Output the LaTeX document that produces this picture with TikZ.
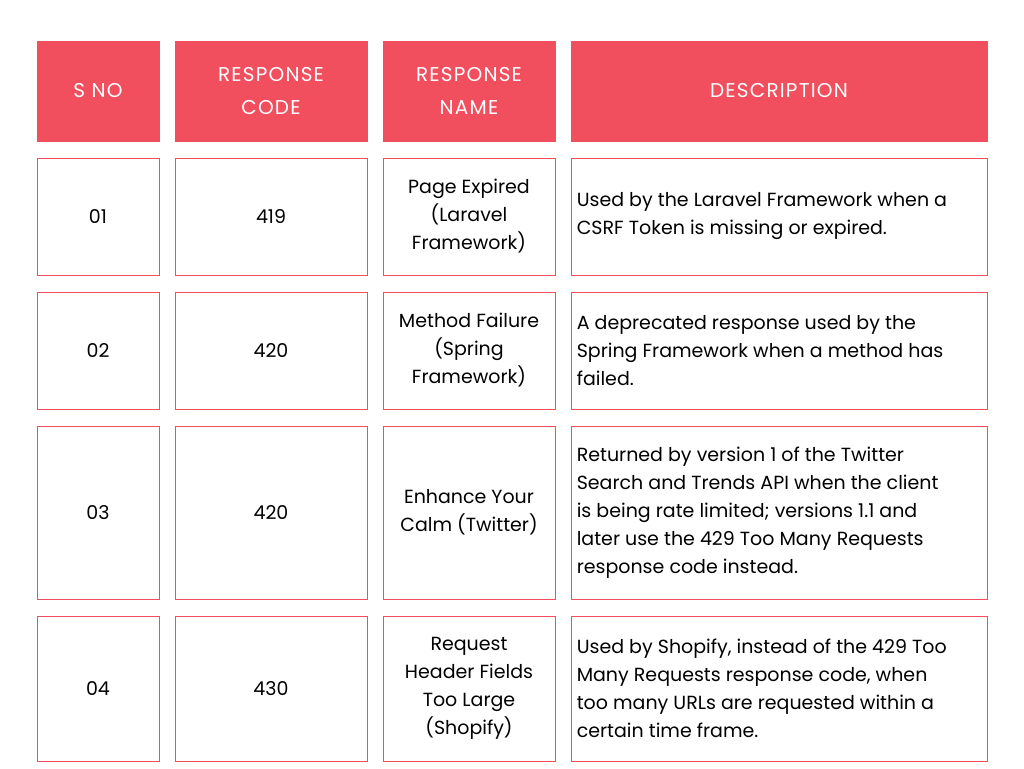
\documentclass[tikz,border=0pt]{standalone}
\usepackage{fontspec}
\setmainfont{Poppins}
\newfontfamily\hdr[LetterSpace=6]{Poppins}
\definecolor{cr}{HTML}{F14E5E}
\begin{document}
\begin{tikzpicture}[x=1pt,y=-1pt,
 hd/.style={fill=cr,draw=cr,text=white,align=center,font=\hdr\fontsize{20}{33}\selectfont},
 cl/.style={draw=cr,line width=0.9pt,align=center,font=\fontsize{19}{28}\selectfont,text=black},
 ds/.style={draw=cr,line width=0.9pt,align=left,font=\fontsize{19}{28}\selectfont,text=black}]
\useasboundingbox (0,0) rectangle (1024,768);
\def\cell#1#2#3#4#5#6#7{\draw[#2] (#3,#4) rectangle (#5,#6); \node[#2,draw=none,fill=none] (#1) at ({(#3+#5)/2},{(#4+#6)/2}) {#7};}
\cell{h1}{hd}{37}{41}{159}{141}{S NO}
\cell{h2}{hd}{175}{41}{367}{141}{RESPONSE\\CODE}
\cell{h3}{hd}{383}{41}{555}{141}{RESPONSE\\NAME}
\cell{h4}{hd}{571}{41}{987}{141}{DESCRIPTION}
% rows
\cell{a1}{cl}{37}{158}{159}{275}{01}
\cell{a2}{cl}{175}{158}{367}{275}{419}
\cell{a3}{cl}{383}{158}{555}{275}{Page Expired\\(Laravel\\Framework)}
\draw[ds] (571,158) rectangle (987,275);
\node[ds,draw=none,anchor=west] (a4) at (573,216.5) {Used by the Laravel Framework when a\\CSRF Token is missing or expired.};
\cell{b1}{cl}{37}{292}{159}{409}{02}
\cell{b2}{cl}{175}{292}{367}{409}{420}
\cell{b3}{cl}{383}{292}{555}{409}{Method Failure\\(Spring\\Framework)}
\draw[ds] (571,292) rectangle (987,409);
\node[ds,draw=none,anchor=west] (b4) at (573,350.5) {A deprecated response used by the\\Spring Framework when a method has\\failed.};
\cell{c1}{cl}{37}{426}{159}{599}{03}
\cell{c2}{cl}{175}{426}{367}{599}{420}
\cell{c3}{cl}{383}{426}{555}{599}{Enhance Your\\Calm (Twitter)}
\draw[ds] (571,426) rectangle (987,599);
\node[ds,draw=none,anchor=west] (c4) at (573,512.5) {Returned by version 1 of the Twitter\\Search and Trends API when the client\\is being rate limited; versions 1.1 and\\later use the 429 Too Many Requests\\response code instead.};
\cell{d1}{cl}{37}{616}{159}{761}{04}
\cell{d2}{cl}{175}{616}{367}{761}{430}
\cell{d3}{cl}{383}{616}{555}{761}{Request\\Header Fields\\Too Large\\(Shopify)}
\draw[ds] (571,616) rectangle (987,761);
\node[ds,draw=none,anchor=west] (d4) at (573,688.5) {Used by Shopify, instead of the 429 Too\\Many Requests response code, when\\too many URLs are requested within a\\certain time frame.};
\end{tikzpicture}
\end{document}
